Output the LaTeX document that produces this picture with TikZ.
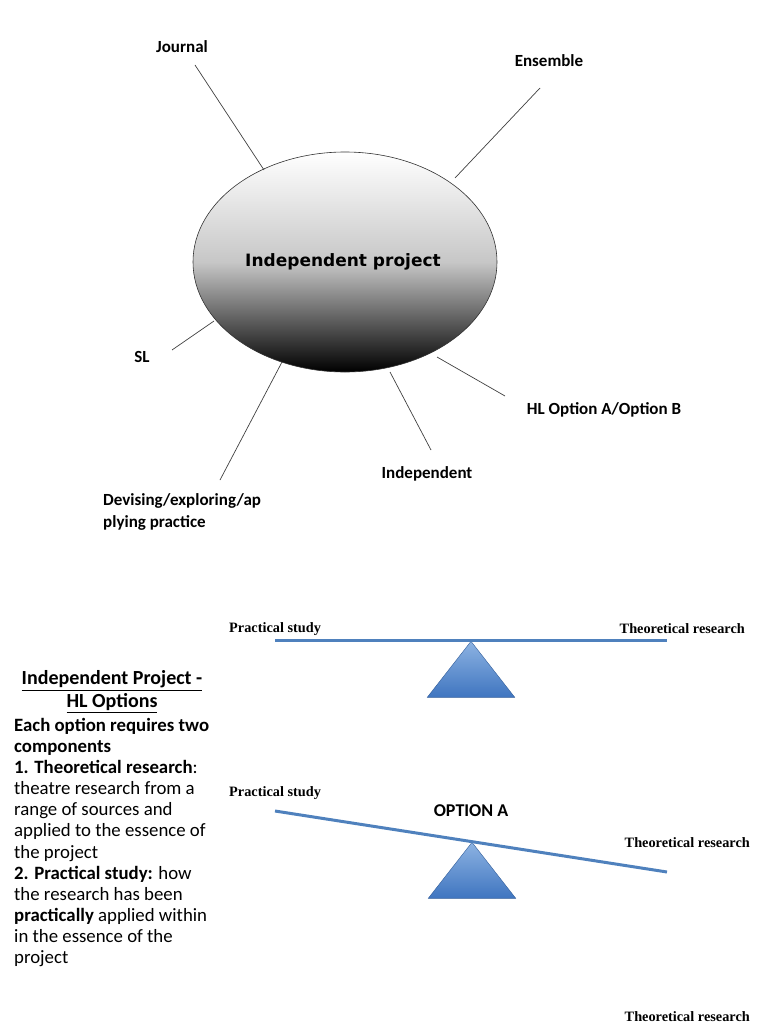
\documentclass[tikz,border=0pt]{standalone}
\usepackage{fontspec}
\setmainfont{Carlito}
\newfontfamily\serifb{Liberation Serif}
\newfontfamily\comic{DejaVu Sans}
\usetikzlibrary{shapes.geometric}
\definecolor{beam}{HTML}{4F81BD}
\definecolor{triA}{HTML}{8DB3E2}
\definecolor{triB}{HTML}{3F75C0}
\begin{document}
\begin{tikzpicture}[x=1pt,y=-1pt,
  lbl/.style={font=\fontsize{17}{20}\selectfont\bfseries, inner sep=0pt},
  spoke/.style={draw=black!75, line width=0.7pt},
  ser/.style={font=\serifb\fontsize{14.3}{16}\selectfont\bfseries, inner sep=0pt},
  bm/.style={draw=beam, line width=3pt},
  tri/.style={isosceles triangle, isosceles triangle apex angle=76, shape border rotate=90, top color=triA, bottom color=triB, draw=triB!80!black, line width=0.4pt, minimum height=56pt, inner sep=0pt, anchor=apex}]
\useasboundingbox (0,0) rectangle (768,1024);
% ellipse
\node[ellipse, draw=black!80, line width=0.6pt, minimum width=304pt, minimum height=220pt, top color=white, bottom color=black, middle color=black!22, shading angle=0] (e) at (345,262) {};
\node[font=\comic\fontsize{17}{20}\selectfont\bfseries] at (343,262) {Independent project};
% labels
\node[lbl] (j) at (182,47) {Journal};
\node[lbl] (en) at (549,61) {Ensemble};
\node[lbl] (sl) at (142,357) {SL};
\node[lbl] (hl) at (604,410) {HL Option A/Option B};
\node[lbl] (ind) at (427,474) {Independent};
\node[lbl, align=left, anchor=north west, font=\fontsize{17}{22}\selectfont\bfseries] (dv) at (103,493) {Devising/exploring/ap\\plying practice};
% spokes
\coordinate (j1) at (195,65); \coordinate (j2) at (264,170);
\coordinate (en1) at (540,88); \coordinate (en2) at (455,178);
\coordinate (sl1) at (172,350); \coordinate (sl2) at (214,321);
\coordinate (dv1) at (220,480); \coordinate (dv2) at (282,362);
\coordinate (ind1) at (431,450); \coordinate (ind2) at (390,372);
\coordinate (hl1) at (505,396); \coordinate (hl2) at (437,357);
\foreach \a in {j,en,sl,dv,ind,hl} \draw[spoke] (\a1) -- (\a2);
% seesaw 1
\node[tri] (t1) at (471,641) {};
\coordinate (b1l) at (275,640); \coordinate (b1r) at (667,640);
\draw[bm] (b1l) -- (b1r);
\node[ser, anchor=west] (p1) at (229,629) {Practical study};
\node[ser, anchor=east] (r1) at (745,629) {Theoretical research};
% seesaw 2
\node[tri] (t2) at (472,842) {};
\coordinate (b2l) at (275,811); \coordinate (b2r) at (667,872);
\draw[bm] (b2l) -- (b2r);
\node[ser, anchor=west] (p2) at (229,793) {Practical study};
\node[font=\fontsize{18}{20}\selectfont\bfseries] (oa) at (471,811) {OPTION A};
\node[ser, anchor=east] (r2) at (750,843) {Theoretical research};
\node[ser, anchor=east] (r3) at (750,1017) {Theoretical research};
% left text
\node[font=\fontsize{20}{23}\selectfont\bfseries, align=center, inner sep=0pt] (ti) at (112,692) {\underline{Independent Project -}\\\underline{HL Options}};
\node[anchor=north west, align=left, inner sep=0pt, font=\fontsize{18.8}{21.1}\selectfont] (tx) at (14,718) {\textbf{Each option requires two}\\\textbf{components}\\\textbf{1. Theoretical research}:\\theatre research from a\\range of sources and\\applied to the essence of\\the project\\\textbf{2. Practical study:} how\\the research has been\\\textbf{practically} applied within\\in the essence of the\\project};
\end{tikzpicture}
\end{document}
